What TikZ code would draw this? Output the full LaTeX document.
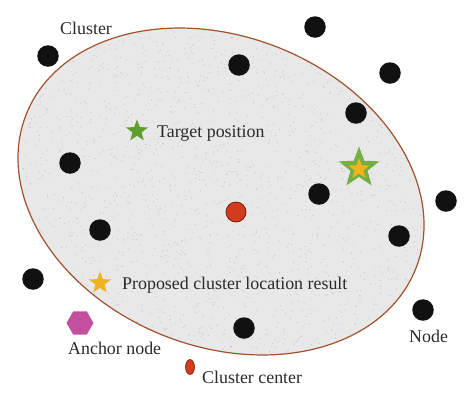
\documentclass[tikz,border=0pt]{standalone}
\usepackage{fontspec}
\setmainfont{Liberation Serif}
\usetikzlibrary{shapes.geometric}
\definecolor{rim}{HTML}{A0522D}
\definecolor{txt}{HTML}{2A2A2A}
\definecolor{dotc}{HTML}{111111}
\definecolor{redc}{HTML}{D23C1E}
\definecolor{redd}{HTML}{7A1A0A}
\definecolor{hexc}{HTML}{C2509E}
\definecolor{greenc}{HTML}{5E9E2E}
\definecolor{greenl}{HTML}{72B043}
\definecolor{yellc}{HTML}{F0B21E}
\tikzset{
  sensor/.style={circle,fill=dotc,minimum size=21.5pt,inner sep=0pt},
  lbl/.style={anchor=base west,text=txt,font=\fontsize{17.9}{20}\selectfont,inner sep=0pt},
  starshape/.style={star,star points=5,star point ratio=2.4,inner sep=0pt}
}
\begin{document}
\begin{tikzpicture}[x=1pt,y=-1pt]
\useasboundingbox (0,0) rectangle (474,400);
% cluster region
\fill[black!9,shift={(221,191.5)},rotate=-21.6]
  (0,0) ellipse [x radius=209.5, y radius=155];
\begin{scope}
  \clip[shift={(221,191.5)},rotate=-21.6] (0,0) ellipse [x radius=209.5, y radius=155];
  \pgfmathsetseed{7}
  \foreach \i in {1,...,2200}{
    \pgfmathsetmacro{\rx}{15+410*rnd}
    \pgfmathsetmacro{\ry}{25+335*rnd}
    \fill[black!22] (\rx,\ry) circle[radius=0.6];
  }
\end{scope}
\draw[rim,line width=1.2pt,shift={(221,191.5)},rotate=-21.6]
  (0,0) ellipse [x radius=209.5, y radius=155];
% nodes
\node[sensor] (n1) at (48,56) {};
\node[sensor] (n2) at (315,27) {};
\node[sensor] (n3) at (239,65) {};
\node[sensor] (n4) at (390,73) {};
\node[sensor] (n5) at (356,113) {};
\node[sensor] (n6) at (70,163) {};
\node[sensor] (n7) at (319,194) {};
\node[sensor] (n8) at (446,201) {};
\node[sensor] (n9) at (100,230) {};
\node[sensor] (n10) at (33,279) {};
\node[sensor] (n11) at (399,236) {};
\node[sensor] (n12) at (423,310) {};
\node[sensor] (n13) at (244,328) {};
% cluster center
\node[circle,fill=redc,draw=redd,line width=0.8pt,minimum size=20pt,inner sep=0pt] (cc) at (236,212) {};
% proposed result star with target
\node[starshape,fill=greenl,minimum size=43pt] (bigstar) at (359,168) {};
\node[starshape,fill=yellc,minimum size=22pt] (bigstarin) at (359,169) {};
% legend symbols
\node[starshape,fill=greenc,minimum size=23pt] (tstar) at (137,131) {};
\node[starshape,fill=yellc,minimum size=23pt] (ystar) at (100,283) {};
\node[regular polygon,regular polygon sides=6,fill=hexc,minimum size=27pt,inner sep=0pt] (anchor) at (80,323) {};
\node[ellipse,fill=redc,draw=redd,line width=0.6pt,minimum width=9pt,minimum height=15pt,inner sep=0pt] (ccsmall) at (190,367) {};
% labels
\node[lbl] (lcluster) at (60,34) {Cluster};
\node[lbl] (ltarget) at (157,137) {Target position};
\node[lbl] (lproposed) at (122,289) {Proposed cluster location result};
\node[lbl] (lanchor) at (68,354) {Anchor node};
\node[lbl] (lnode) at (409,342) {Node};
\node[lbl] (lcenter) at (202,383) {Cluster center};
\end{tikzpicture}
\end{document}
